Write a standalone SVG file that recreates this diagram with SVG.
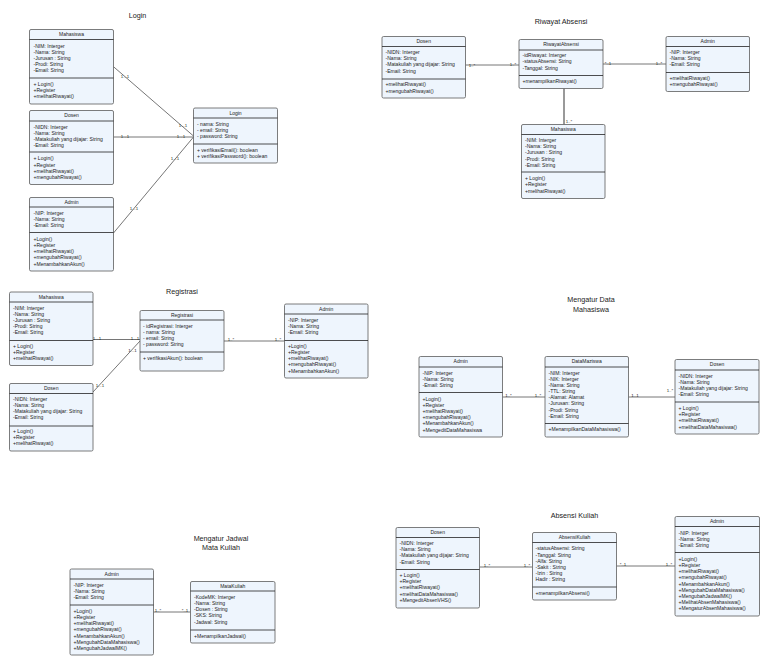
<svg xmlns="http://www.w3.org/2000/svg" width="768" height="665" viewBox="0 0 768 665">
<style>
text{font-family:"Liberation Sans",Arial,sans-serif;fill:#222}
.t{font-size:7.2px;text-anchor:middle}
.h{font-size:5px;text-anchor:middle}
.m{font-size:5.05px}
.l{font-size:4.4px;text-anchor:middle}
.b{fill:#eef5fd;stroke:#5c5c5c;stroke-width:.8}
.d{stroke:#222;stroke-width:.8;fill:none}
.c{stroke:#666;stroke-width:.9;fill:none}
.e{stroke:#555;stroke-width:1.2;fill:none}
</style>
<rect width="768" height="665" fill="#fff"/>
<g id="titles">
<text class="t" x="137.500" y="17.500">Login</text>
<text class="t" x="561" y="23.500">Riwayat Absensi</text>
<text class="t" x="182" y="293.500">Registrasi</text>
<text class="t" x="591" y="301.500">Mengatur Data</text>
<text class="t" x="591" y="311.500">Mahasiswa</text>
<text class="t" x="221" y="540.500">Mengatur Jadwal</text>
<text class="t" x="221" y="549.500">Mata Kuliah</text>
<text class="t" x="574.500" y="517.500">Absensi Kuliah</text>
</g>
<g id="connectors">
<path class="c" d="M113.500 66.700L193.500 136M113.500 137H193.500M113.500 233L193.500 137"/>
<path class="c" d="M465.500 65H519M603 64H666"/>
<path class="e" d="M564 88.500V124.500"/>
<path class="c" d="M93 339.500H140M93 392L140 341M224 341H284.500"/>
<path class="c" d="M502.500 397H545M628.500 397H675"/>
<path class="c" d="M153.500 612H190.500"/>
<path class="c" d="M479.500 567H532.500M616.500 566H675"/>
<g id="labels">
<text class="l" x="125" y="77.500">1...1</text><text class="l" x="183" y="126.500">1...1</text>
<text class="l" x="125" y="137.500">1...1</text><text class="l" x="181" y="137.500">1...1</text>
<text class="l" x="134" y="210">1...1</text><text class="l" x="175" y="160">1...1</text>
<text class="l" x="472" y="67">1..*</text><text class="l" x="513" y="65.500">1..*</text>
<text class="l" x="608" y="64.500">*..1</text><text class="l" x="659" y="64.500">1..*</text>
<text class="l" x="569" y="123">1..*</text>
<text class="l" x="97" y="340">1...1</text><text class="l" x="135" y="340">1...1</text>
<text class="l" x="100" y="386.500">1...1</text><text class="l" x="132.500" y="351.500">1...1</text>
<text class="l" x="231" y="341">1..*</text><text class="l" x="278" y="341">1..*</text>
<text class="l" x="508.500" y="397">1..*</text><text class="l" x="538" y="397">1..*</text>
<text class="l" x="635" y="396.500">1..1</text><text class="l" x="670" y="391.500">1..*</text>
<text class="l" x="158" y="612">1..*</text><text class="l" x="185" y="612">*..1</text>
<text class="l" x="487" y="567">1..*</text><text class="l" x="527" y="567">1..*</text>
<text class="l" x="623" y="566">*..1</text><text class="l" x="669" y="566">1..*</text>
</g>
</g>
<g id="login-mahasiswa">
<rect class="b" x="29.500" y="29.500" width="84" height="74.500" rx="1.500"/>
<path class="d" d="M29.500 39.500H113.500M29.500 78H113.500"/>
<text class="h" x="71.500" y="36">Mahasiswa</text>
<text class="m" x="33.500" y="47.700">-NIM: Interger</text><text class="m" x="33.500" y="53.800">-Nama: String</text><text class="m" x="33.500" y="59.900">-Jurusan : String</text><text class="m" x="33.500" y="66">-Prodi: String</text><text class="m" x="33.500" y="72.200">-Email: String</text>
<text class="m" x="33.500" y="85.700">+ Login()</text><text class="m" x="33.500" y="91.800">+Register</text><text class="m" x="33.500" y="97.900">+melihatRiwayat()</text>
</g>
<g id="login-dosen">
<rect class="b" x="29.500" y="110.500" width="84" height="74" rx="1.500"/>
<path class="d" d="M29.500 121H113.500M29.500 152H113.500"/>
<text class="h" x="71.500" y="117">Dosen</text>
<text class="m" x="33.500" y="128.700">-NIDN: Interger</text><text class="m" x="33.500" y="134.800">-Nama: String</text><text class="m" x="33.500" y="140.900">-Matakuliah yang dijajar: String</text><text class="m" x="33.500" y="147">-Email: String</text>
<text class="m" x="33.500" y="159.700">+ Login()</text><text class="m" x="33.500" y="166.500">+Register</text><text class="m" x="33.500" y="172.700">+melihatRiwayat()</text><text class="m" x="33.500" y="178.800">+mengubahRiwayat()</text>
</g>
<g id="login-admin">
<rect class="b" x="29.500" y="197.500" width="84" height="73.500" rx="1.500"/>
<path class="d" d="M29.500 207H113.500M29.500 232.500H113.500"/>
<text class="h" x="71.500" y="203.500">Admin</text>
<text class="m" x="33.500" y="214.800">-NIP: Interger</text><text class="m" x="33.500" y="220.900">-Nama: String</text><text class="m" x="33.500" y="227">-Email: String</text>
<text class="m" x="33.500" y="240.700">+Login()</text><text class="m" x="33.500" y="246.800">+Register</text><text class="m" x="33.500" y="253">+melihatRiwayat()</text><text class="m" x="33.500" y="259.200">+mengubahRiwayat()</text><text class="m" x="33.500" y="265.500">+MenambahkanAkun()</text>
</g>
<g id="login-login">
<rect class="b" x="193.500" y="108" width="84" height="55" rx="1.500"/>
<path class="d" d="M193.500 118H277.500M193.500 144H277.500"/>
<text class="h" x="235.500" y="114.500">Login</text>
<text class="m" x="197" y="125.700">- nama: String</text><text class="m" x="197" y="131.800">- email: String</text><text class="m" x="197" y="138">- password: String</text>
<text class="m" x="197" y="151.700">+ verifikasiEmail(): boolean</text><text class="m" x="197" y="157.800">+ verifikasiPassword(): boolean</text>
</g>
<g id="riwayat-dosen">
<rect class="b" x="382" y="36.500" width="83.500" height="61.500" rx="1.500"/>
<path class="d" d="M382 46.500H465.500M382 79H465.500"/>
<text class="h" x="423.700" y="42.500">Dosen</text>
<text class="m" x="385.500" y="53.700">-NIDN: Interger</text><text class="m" x="385.500" y="59.800">-Nama: String</text><text class="m" x="385.500" y="66">-Matakuliah yang dijajar: String</text><text class="m" x="385.500" y="72.500">-Email: String</text>
<text class="m" x="385.500" y="85.700">+melihatRiwayat()</text><text class="m" x="385.500" y="92.500">+mengubahRiwayat()</text>
</g>
<g id="riwayat-absensi">
<rect class="b" x="519" y="39.500" width="84" height="49" rx="1.500"/>
<path class="d" d="M519 50H603M519 75.500H603"/>
<text class="h" x="561" y="46">RiwayatAbsensi</text>
<text class="m" x="522.500" y="57.200">-idRiwayat: Interger</text><text class="m" x="522.500" y="63.300">-statusAbsensi: String</text><text class="m" x="522.500" y="69.500">-Tanggal: String</text>
<text class="m" x="522.500" y="83.200">+menampilkanRiwayat()</text>
</g>
<g id="riwayat-admin">
<rect class="b" x="666" y="36.500" width="83.500" height="55" rx="1.500"/>
<path class="d" d="M666 46.500H749.500M666 72.500H749.500"/>
<text class="h" x="707.700" y="42.500">Admin</text>
<text class="m" x="669.500" y="53.700">-NIP: Interger</text><text class="m" x="669.500" y="59.800">-Nama: String</text><text class="m" x="669.500" y="66">-Email: String</text>
<text class="m" x="669.500" y="79.700">+melihatRiwayat()</text><text class="m" x="669.500" y="86">+mengubahRiwayat()</text>
</g>
<g id="riwayat-mahasiswa">
<rect class="b" x="521.500" y="124.500" width="83.500" height="74" rx="1.500"/>
<path class="d" d="M521.500 134.500H605M521.500 172H605"/>
<text class="h" x="563.200" y="131">Mahasiswa</text>
<text class="m" x="525" y="141.700">-NIM: Interger</text><text class="m" x="525" y="148">-Nama: String</text><text class="m" x="525" y="154.200">-Jurusan : String</text><text class="m" x="525" y="160.500">-Prodi: String</text><text class="m" x="525" y="166.700">-Email: String</text>
<text class="m" x="525" y="179.700">+ Login()</text><text class="m" x="525" y="186">+Register</text><text class="m" x="525" y="192.500">+melihatRiwayat()</text>
</g>
<g id="registrasi-mahasiswa">
<rect class="b" x="9.500" y="292" width="83.500" height="73.500" rx="1.500"/>
<path class="d" d="M9.500 302H93M9.500 340.500H93"/>
<text class="h" x="51.200" y="298.500">Mahasiswa</text>
<text class="m" x="13" y="309.700">-NIM: Interger</text><text class="m" x="13" y="315.800">-Nama: String</text><text class="m" x="13" y="321.900">-Jurusan : String</text><text class="m" x="13" y="328">-Prodi: String</text><text class="m" x="13" y="334.200">-Email: String</text>
<text class="m" x="13" y="347.700">+ Login()</text><text class="m" x="13" y="353.800">+Register</text><text class="m" x="13" y="359.900">+melihatRiwayat()</text>
</g>
<g id="registrasi-dosen">
<rect class="b" x="9.500" y="383.500" width="83.500" height="67.500" rx="1.500"/>
<path class="d" d="M9.500 393.500H93M9.500 426H93"/>
<text class="h" x="51.200" y="389.500">Dosen</text>
<text class="m" x="13" y="400.700">-NIDN: Interger</text><text class="m" x="13" y="406.800">-Nama: String</text><text class="m" x="13" y="412.900">-Matakuliah yang dijajar: String</text><text class="m" x="13" y="419">-Email: String</text>
<text class="m" x="13" y="432.700">+ Login()</text><text class="m" x="13" y="438.800">+Register</text><text class="m" x="13" y="445">+melihatRiwayat()</text>
</g>
<g id="registrasi-registrasi">
<rect class="b" x="140" y="310.500" width="84" height="60.500" rx="1.500"/>
<path class="d" d="M140 320H224M140 352H224"/>
<text class="h" x="182" y="316.500">Registrasi</text>
<text class="m" x="143" y="327.700">- idRegistrasi: Interger</text><text class="m" x="143" y="333.800">- nama: String</text><text class="m" x="143" y="339.900">- email: String</text><text class="m" x="143" y="346.200">- password: String</text>
<text class="m" x="143" y="359.700">+ verifikasiAkun(): boolean</text>
</g>
<g id="registrasi-admin">
<rect class="b" x="284.500" y="304" width="83.500" height="74" rx="1.500"/>
<path class="d" d="M284.500 314H368M284.500 340.500H368"/>
<text class="h" x="326.200" y="310.500">Admin</text>
<text class="m" x="288" y="321.700">-NIP: Interger</text><text class="m" x="288" y="327.800">-Nama: String</text><text class="m" x="288" y="333.900">-Email: String</text>
<text class="m" x="288" y="347.700">+Login()</text><text class="m" x="288" y="353.800">+Register</text><text class="m" x="288" y="359.900">+melihatRiwayat()</text><text class="m" x="288" y="366">+mengubahRiwayat()</text><text class="m" x="288" y="372.500">+MenambahkanAkun()</text>
</g>
<g id="data-admin">
<rect class="b" x="419" y="356.500" width="83.500" height="80.500" rx="1.500"/>
<path class="d" d="M419 367H502.500M419 392.500H502.500"/>
<text class="h" x="460.700" y="363">Admin</text>
<text class="m" x="422.500" y="374.700">-NIP: Interger</text><text class="m" x="422.500" y="380.800">-Nama: String</text><text class="m" x="422.500" y="386.900">-Email: String</text>
<text class="m" x="422.500" y="400.700">+Login()</text><text class="m" x="422.500" y="406.800">+Register</text><text class="m" x="422.500" y="412.900">+melihatRiwayat()</text><text class="m" x="422.500" y="419">+mengubahRiwayat()</text><text class="m" x="422.500" y="425.200">+MenambahkanAkun()</text><text class="m" x="422.500" y="431.500">+MengeditDataMahasiswa</text>
</g>
<g id="data-mahasiswa">
<rect class="b" x="545" y="356.500" width="83.500" height="80.500" rx="1.500"/>
<path class="d" d="M545 367H628.500M545 423.500H628.500"/>
<text class="h" x="586.700" y="363">DataMaziswa</text>
<text class="m" x="548.500" y="374.700">-NIM: Interger</text><text class="m" x="548.500" y="380.800">-NIK: Interger</text><text class="m" x="548.500" y="386.900">-Nama: String</text><text class="m" x="548.500" y="393">-TTL: String</text><text class="m" x="548.500" y="399.200">-Alamat: Alamat</text><text class="m" x="548.500" y="405.300">-Jurusan: String</text><text class="m" x="548.500" y="411.500">-Prodi: String</text><text class="m" x="548.500" y="417.700">-Email: String</text>
<text class="m" x="548.500" y="431.200">+MenampilkanDataMahasiswa()</text>
</g>
<g id="data-dosen">
<rect class="b" x="675" y="359.500" width="84" height="74.500" rx="1.500"/>
<path class="d" d="M675 370H759M675 402H759"/>
<text class="h" x="717" y="366">Dosen</text>
<text class="m" x="678.500" y="377.700">-NIDN: Interger</text><text class="m" x="678.500" y="383.800">-Nama: String</text><text class="m" x="678.500" y="389.900">-Matakuliah yang dijajar: String</text><text class="m" x="678.500" y="396.200">-Email: String</text>
<text class="m" x="678.500" y="409.700">+ Login()</text><text class="m" x="678.500" y="416">+Register</text><text class="m" x="678.500" y="422.200">+melihatRiwayat()</text><text class="m" x="678.500" y="428.500">+melihatDataMahasiswa()</text>
</g>
<g id="jadwal-admin">
<rect class="b" x="70" y="569" width="83.500" height="86" rx="1.500"/>
<path class="d" d="M70 579H153.500M70 605H153.500"/>
<text class="h" x="111.700" y="575.500">Admin</text>
<text class="m" x="73.500" y="586.700">-NIP: Interger</text><text class="m" x="73.500" y="592.800">-Nama: String</text><text class="m" x="73.500" y="598.900">-Email: String</text>
<text class="m" x="73.500" y="612.700">+Login()</text><text class="m" x="73.500" y="618.900">+Register</text><text class="m" x="73.500" y="625.100">+melihatRiwayat()</text><text class="m" x="73.500" y="631.300">+mengubahRiwayat()</text><text class="m" x="73.500" y="637.500">+MenambahkanAkun()</text><text class="m" x="73.500" y="643.700">+MengubahDataMahasiswa()</text><text class="m" x="73.500" y="649.900">+MengubahJadwalMK()</text>
</g>
<g id="jadwal-matakuliah">
<rect class="b" x="190.500" y="581.500" width="84.500" height="61.500" rx="1.500"/>
<path class="d" d="M190.500 591H275M190.500 630H275"/>
<text class="h" x="232.700" y="588">MataKuliah</text>
<text class="m" x="194" y="598.700">-KodeMK: Interger</text><text class="m" x="194" y="604.800">-Nama: String</text><text class="m" x="194" y="611">-Dosen : String</text><text class="m" x="194" y="617.200">-SKS: String</text><text class="m" x="194" y="623.500">-Jadwal: String</text>
<text class="m" x="194" y="637.700">+MenampilkanJadwal()</text>
</g>
<g id="absensi-dosen">
<rect class="b" x="396" y="527.500" width="83.500" height="80.500" rx="1.500"/>
<path class="d" d="M396 537.500H479.500M396 569.500H479.500"/>
<text class="h" x="437.700" y="534">Dosen</text>
<text class="m" x="399.500" y="544.700">-NIDN: Interger</text><text class="m" x="399.500" y="551">-Nama: String</text><text class="m" x="399.500" y="557.200">-Matakuliah yang dijajar: String</text><text class="m" x="399.500" y="563.500">-Email: String</text>
<text class="m" x="399.500" y="576.700">+ Login()</text><text class="m" x="399.500" y="583">+Register</text><text class="m" x="399.500" y="589.200">+melihatRiwayat()</text><text class="m" x="399.500" y="595.500">+melihatDataMahasiswa()</text><text class="m" x="399.500" y="601.700">+MengeditAbsenVHS()</text>
</g>
<g id="absensi-kuliah">
<rect class="b" x="532.500" y="532.500" width="84" height="67.500" rx="1.500"/>
<path class="d" d="M532.500 542.500H616.500M532.500 587H616.500"/>
<text class="h" x="574.500" y="538.500">AbsensiKuliah</text>
<text class="m" x="535.500" y="550.200">-statusAbsensi: String</text><text class="m" x="535.500" y="556.500">-Tanggal: String</text><text class="m" x="535.500" y="562.700">-Alfa: String</text><text class="m" x="535.500" y="568.900">-Sakit : String</text><text class="m" x="535.500" y="575.100">-Izin : String</text><text class="m" x="535.500" y="581.300">Hadir : String</text>
<text class="m" x="535.500" y="594.700">+menampilkanAbsensi()</text>
</g>
<g id="absensi-admin">
<rect class="b" x="675" y="516.500" width="84.500" height="99.500" rx="1.500"/>
<path class="d" d="M675 526.500H759.500M675 552.500H759.500"/>
<text class="h" x="717" y="523">Admin</text>
<text class="m" x="678.500" y="534.700">-NIP: Interger</text><text class="m" x="678.500" y="540.800">-Nama: String</text><text class="m" x="678.500" y="547">-Email: String</text>
<text class="m" x="678.500" y="560.700">+Login()</text><text class="m" x="678.500" y="566.900">+Register</text><text class="m" x="678.500" y="573.100">+melihatRiwayat()</text><text class="m" x="678.500" y="579.300">+mengubahRiwayat()</text><text class="m" x="678.500" y="585.500">+MenambahkanAkun()</text><text class="m" x="678.500" y="591.700">+MengubahDataMahasiswa()</text><text class="m" x="678.500" y="597.900">+MengubahJadwalMK()</text><text class="m" x="678.500" y="604.100">+MelihatAbsenMahasiswa()</text><text class="m" x="678.500" y="610.300">+MengaturAbsenMahasiswa()</text>
</g>
</svg>
